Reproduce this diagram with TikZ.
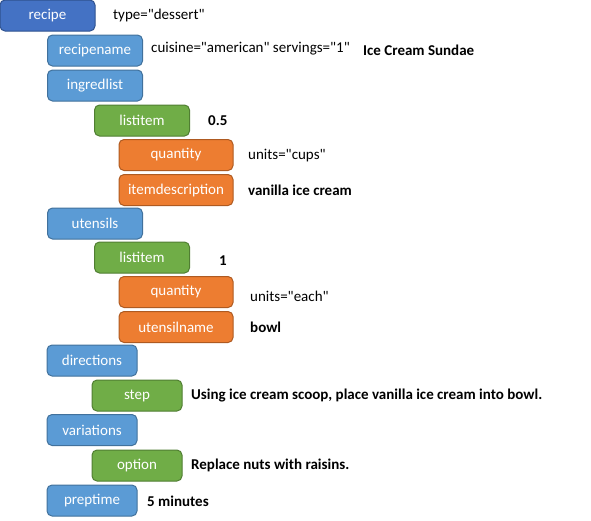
\documentclass[tikz,border=0pt]{standalone}
\usepackage{fontspec}
\setmainfont{Carlito}[Ligatures=TeXOff]
\definecolor{darkblue}{HTML}{4472C4}
\definecolor{darkblueline}{HTML}{2F528F}
\definecolor{lightblue}{HTML}{5B9BD5}
\definecolor{lightblueline}{HTML}{41719C}
\definecolor{leafgreen}{HTML}{70AD47}
\definecolor{leafgreenline}{HTML}{507E32}
\definecolor{tagorange}{HTML}{ED7D31}
\definecolor{tagorangeline}{HTML}{AE5A21}
\begin{document}
\begin{tikzpicture}[x=1pt,y=-1pt,
  every node/.style={font=\fontsize{15}{18}\selectfont},
  tag/.style={rounded corners=5pt,line width=1pt,text=white,minimum height=31pt,inner sep=0pt},
  rootbox/.style={tag,fill=darkblue,draw=darkblueline,minimum width=95pt},
  elembox/.style={tag,fill=lightblue,draw=lightblueline,minimum width=95pt},
  shortbox/.style={tag,fill=lightblue,draw=lightblueline,minimum width=90pt},
  itembox/.style={tag,fill=leafgreen,draw=leafgreenline,minimum width=95pt},
  shortitem/.style={tag,fill=leafgreen,draw=leafgreenline,minimum width=90pt},
  leafbox/.style={tag,fill=tagorange,draw=tagorangeline,minimum width=114pt},
  attr/.style={anchor=west,inner sep=0pt},
  val/.style={anchor=west,inner sep=0pt,font=\fontsize{15}{18}\selectfont\bfseries}]
\useasboundingbox (0,0) rectangle (591,520);
\node[rootbox] (recipe) at (47.5,15.5) {recipe};
\node[elembox] (recipename) at (95,50.5) {recipename};
\node[elembox] (ingredlist) at (95,85.5) {ingredlist};
\node[itembox] (listitemA) at (142,120.5) {listitem};
\node[leafbox] (quantityA) at (176,155) {quantity};
\node[leafbox] (itemdescription) at (176,190) {itemdescription};
\node[elembox] (utensils) at (95,223.5) {utensils};
\node[itembox] (listitemB) at (142,257.5) {listitem};
\node[leafbox] (quantityB) at (176,292) {quantity};
\node[leafbox] (utensilname) at (176,327) {utensilname};
\node[shortbox] (directions) at (92,360.5) {directions};
\node[shortitem] (step) at (137,395.5) {step};
\node[shortbox] (variations) at (92,430) {variations};
\node[shortitem] (option) at (137,465.5) {option};
\node[shortbox] (preptime) at (92,500.5) {preptime};
\node[attr] (typeattr) at (113,15) {type="dessert"};
\node[attr] (cuisineattr) at (151,49) {cuisine="american" servings="1"};
\node[val] (recipetitle) at (363,50) {Ice Cream Sundae};
\node[val] (amountA) at (208,121) {0.5};
\node[attr] (unitsA) at (248,156) {units="cups"};
\node[val] (itemtext) at (248,190) {vanilla ice cream};
\node[val] (amountB) at (219,261) {1};
\node[attr] (unitsB) at (250,296) {units="each"};
\node[val] (utensiltext) at (250,327) {bowl};
\node[val] (steptext) at (191,395) {Using ice cream scoop, place vanilla ice cream into bowl.};
\node[val] (optiontext) at (191,465) {Replace nuts with raisins.};
\node[val] (preptext) at (147,501) {5 minutes};
\end{tikzpicture}
\end{document}
